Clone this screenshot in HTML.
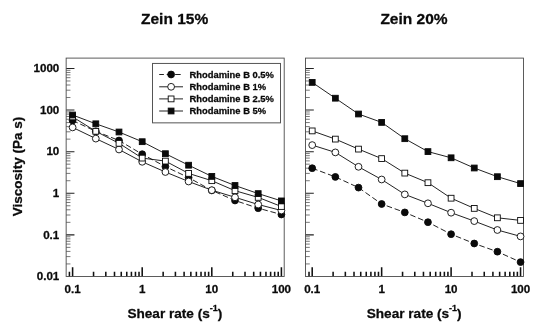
<!DOCTYPE html>
<html lang="en"><head><meta charset="utf-8"><title>Viscosity vs shear rate</title>
<style>html,body{margin:0;padding:0;background:#fff}body{width:550px;height:333px;overflow:hidden}svg{display:block}</style>
</head><body>
<svg width="550" height="333" viewBox="0 0 550 333" font-family='"Liberation Sans", Arial, Helvetica, sans-serif' font-weight="bold" fill="#0a0a0a">
<style>text{stroke:#0a0a0a;stroke-width:0.28px;stroke-linejoin:round}</style>
<rect width="550" height="333" fill="#fff"/>
<path d="M66.15 263.93h4.3M66.15 256.60h4.3M66.15 251.40h4.3M66.15 247.37h4.3M66.15 244.08h4.3M66.15 241.29h4.3M66.15 238.88h4.3M66.15 236.75h4.3M66.15 222.33h4.3M66.15 215.00h4.3M66.15 209.80h4.3M66.15 205.77h4.3M66.15 202.48h4.3M66.15 199.69h4.3M66.15 197.28h4.3M66.15 195.15h4.3M66.15 180.73h4.3M66.15 173.40h4.3M66.15 168.20h4.3M66.15 164.17h4.3M66.15 160.88h4.3M66.15 158.09h4.3M66.15 155.68h4.3M66.15 153.55h4.3M66.15 139.13h4.3M66.15 131.80h4.3M66.15 126.60h4.3M66.15 122.57h4.3M66.15 119.28h4.3M66.15 116.49h4.3M66.15 114.08h4.3M66.15 111.95h4.3M66.15 97.53h4.3M66.15 90.20h4.3M66.15 85.00h4.3M66.15 80.97h4.3M66.15 77.68h4.3M66.15 74.89h4.3M66.15 72.48h4.3M66.15 70.35h4.3" stroke="#555" stroke-width="0.8" fill="none"/>
<path d="M66.15 234.85h8.3M66.15 193.25h8.3M66.15 151.65h8.3M66.15 110.05h8.3M66.15 68.45h8.3" stroke="#222" stroke-width="1.05" fill="none"/>
<path d="M69.42 276.45v-4.7M72.60 276.45v-9.3M93.55 276.45v-4.7M105.81 276.45v-4.7M114.50 276.45v-4.7M121.25 276.45v-4.7M126.76 276.45v-4.7M131.42 276.45v-4.7M135.46 276.45v-4.7M139.02 276.45v-4.7M142.20 276.45v-9.3M163.15 276.45v-4.7M175.41 276.45v-4.7M184.10 276.45v-4.7M190.85 276.45v-4.7M196.36 276.45v-4.7M201.02 276.45v-4.7M205.06 276.45v-4.7M208.62 276.45v-4.7M211.80 276.45v-9.3M232.75 276.45v-4.7M245.01 276.45v-4.7M253.70 276.45v-4.7M260.45 276.45v-4.7M265.96 276.45v-4.7M270.62 276.45v-4.7M274.66 276.45v-4.7M278.22 276.45v-4.7M281.40 276.45v-9.3" stroke="#111" stroke-width="1.55" fill="none"/>
<rect x="66.15" y="58.1" width="218.05" height="218.35" fill="none" stroke="#4a4a4a" stroke-width="0.9"/>
<polyline points="72.60,120.50 95.80,131.30 119.00,140.50 142.20,154.20 165.40,166.60 188.60,177.60 211.80,190.40 235.00,200.50 258.20,208.20 281.40,214.50" fill="none" stroke="#0a0a0a" stroke-width="0.9" stroke-dasharray="5.6 2.8"/>
<circle cx="72.60" cy="120.50" r="3.4" fill="#0a0a0a" stroke="#0a0a0a" stroke-width="0.9"/>
<circle cx="95.80" cy="131.30" r="3.4" fill="#0a0a0a" stroke="#0a0a0a" stroke-width="0.9"/>
<circle cx="119.00" cy="140.50" r="3.4" fill="#0a0a0a" stroke="#0a0a0a" stroke-width="0.9"/>
<circle cx="142.20" cy="154.20" r="3.4" fill="#0a0a0a" stroke="#0a0a0a" stroke-width="0.9"/>
<circle cx="165.40" cy="166.60" r="3.4" fill="#0a0a0a" stroke="#0a0a0a" stroke-width="0.9"/>
<circle cx="188.60" cy="177.60" r="3.4" fill="#0a0a0a" stroke="#0a0a0a" stroke-width="0.9"/>
<circle cx="211.80" cy="190.40" r="3.4" fill="#0a0a0a" stroke="#0a0a0a" stroke-width="0.9"/>
<circle cx="235.00" cy="200.50" r="3.4" fill="#0a0a0a" stroke="#0a0a0a" stroke-width="0.9"/>
<circle cx="258.20" cy="208.20" r="3.4" fill="#0a0a0a" stroke="#0a0a0a" stroke-width="0.9"/>
<circle cx="281.40" cy="214.50" r="3.4" fill="#0a0a0a" stroke="#0a0a0a" stroke-width="0.9"/>
<polyline points="72.60,127.40 95.80,138.60 119.00,149.50 142.20,161.80 165.40,172.00 188.60,181.50 211.80,190.20 235.00,197.30 258.20,204.50 281.40,210.50" fill="none" stroke="#0a0a0a" stroke-width="0.9"/>
<circle cx="72.60" cy="127.40" r="3.4" fill="#fff" stroke="#0a0a0a" stroke-width="0.9"/>
<circle cx="95.80" cy="138.60" r="3.4" fill="#fff" stroke="#0a0a0a" stroke-width="0.9"/>
<circle cx="119.00" cy="149.50" r="3.4" fill="#fff" stroke="#0a0a0a" stroke-width="0.9"/>
<circle cx="142.20" cy="161.80" r="3.4" fill="#fff" stroke="#0a0a0a" stroke-width="0.9"/>
<circle cx="165.40" cy="172.00" r="3.4" fill="#fff" stroke="#0a0a0a" stroke-width="0.9"/>
<circle cx="188.60" cy="181.50" r="3.4" fill="#fff" stroke="#0a0a0a" stroke-width="0.9"/>
<circle cx="211.80" cy="190.20" r="3.4" fill="#fff" stroke="#0a0a0a" stroke-width="0.9"/>
<circle cx="235.00" cy="197.30" r="3.4" fill="#fff" stroke="#0a0a0a" stroke-width="0.9"/>
<circle cx="258.20" cy="204.50" r="3.4" fill="#fff" stroke="#0a0a0a" stroke-width="0.9"/>
<circle cx="281.40" cy="210.50" r="3.4" fill="#fff" stroke="#0a0a0a" stroke-width="0.9"/>
<polyline points="72.60,116.90 95.80,131.30 119.00,143.30 142.20,158.10 165.40,161.10 188.60,173.40 211.80,180.70 235.00,190.70 258.20,197.40 281.40,206.50" fill="none" stroke="#0a0a0a" stroke-width="0.9"/>
<rect x="69.70" y="114.00" width="5.8" height="5.8" fill="#fff" stroke="#0a0a0a" stroke-width="0.9"/>
<rect x="92.90" y="128.40" width="5.8" height="5.8" fill="#fff" stroke="#0a0a0a" stroke-width="0.9"/>
<rect x="116.10" y="140.40" width="5.8" height="5.8" fill="#fff" stroke="#0a0a0a" stroke-width="0.9"/>
<rect x="139.30" y="155.20" width="5.8" height="5.8" fill="#fff" stroke="#0a0a0a" stroke-width="0.9"/>
<rect x="162.50" y="158.20" width="5.8" height="5.8" fill="#fff" stroke="#0a0a0a" stroke-width="0.9"/>
<rect x="185.70" y="170.50" width="5.8" height="5.8" fill="#fff" stroke="#0a0a0a" stroke-width="0.9"/>
<rect x="208.90" y="177.80" width="5.8" height="5.8" fill="#fff" stroke="#0a0a0a" stroke-width="0.9"/>
<rect x="232.10" y="187.80" width="5.8" height="5.8" fill="#fff" stroke="#0a0a0a" stroke-width="0.9"/>
<rect x="255.30" y="194.50" width="5.8" height="5.8" fill="#fff" stroke="#0a0a0a" stroke-width="0.9"/>
<rect x="278.50" y="203.60" width="5.8" height="5.8" fill="#fff" stroke="#0a0a0a" stroke-width="0.9"/>
<polyline points="72.60,115.00 95.80,123.80 119.00,132.00 142.20,141.70 165.40,153.70 188.60,165.20 211.80,176.40 235.00,185.50 258.20,193.60 281.40,200.90" fill="none" stroke="#0a0a0a" stroke-width="0.9"/>
<rect x="69.70" y="112.10" width="5.8" height="5.8" fill="#0a0a0a" stroke="#0a0a0a" stroke-width="0.9"/>
<rect x="92.90" y="120.90" width="5.8" height="5.8" fill="#0a0a0a" stroke="#0a0a0a" stroke-width="0.9"/>
<rect x="116.10" y="129.10" width="5.8" height="5.8" fill="#0a0a0a" stroke="#0a0a0a" stroke-width="0.9"/>
<rect x="139.30" y="138.80" width="5.8" height="5.8" fill="#0a0a0a" stroke="#0a0a0a" stroke-width="0.9"/>
<rect x="162.50" y="150.80" width="5.8" height="5.8" fill="#0a0a0a" stroke="#0a0a0a" stroke-width="0.9"/>
<rect x="185.70" y="162.30" width="5.8" height="5.8" fill="#0a0a0a" stroke="#0a0a0a" stroke-width="0.9"/>
<rect x="208.90" y="173.50" width="5.8" height="5.8" fill="#0a0a0a" stroke="#0a0a0a" stroke-width="0.9"/>
<rect x="232.10" y="182.60" width="5.8" height="5.8" fill="#0a0a0a" stroke="#0a0a0a" stroke-width="0.9"/>
<rect x="255.30" y="190.70" width="5.8" height="5.8" fill="#0a0a0a" stroke="#0a0a0a" stroke-width="0.9"/>
<rect x="278.50" y="198.00" width="5.8" height="5.8" fill="#0a0a0a" stroke="#0a0a0a" stroke-width="0.9"/>
<text x="72.60" y="292.9" font-size="11.6" text-anchor="middle">0.1</text>
<text x="142.20" y="292.9" font-size="11.6" text-anchor="middle">1</text>
<text x="211.80" y="292.9" font-size="11.6" text-anchor="middle">10</text>
<text x="281.40" y="292.9" font-size="11.6" text-anchor="middle">100</text>
<text x="174.88" y="317.6" font-size="13.6" text-anchor="middle">Shear rate (s<tspan font-size="9" dy="-6.3">-1</tspan><tspan dy="6.3">)</tspan></text>
<path d="M305.50 263.93h4.3M305.50 256.60h4.3M305.50 251.40h4.3M305.50 247.37h4.3M305.50 244.08h4.3M305.50 241.29h4.3M305.50 238.88h4.3M305.50 236.75h4.3M305.50 222.33h4.3M305.50 215.00h4.3M305.50 209.80h4.3M305.50 205.77h4.3M305.50 202.48h4.3M305.50 199.69h4.3M305.50 197.28h4.3M305.50 195.15h4.3M305.50 180.73h4.3M305.50 173.40h4.3M305.50 168.20h4.3M305.50 164.17h4.3M305.50 160.88h4.3M305.50 158.09h4.3M305.50 155.68h4.3M305.50 153.55h4.3M305.50 139.13h4.3M305.50 131.80h4.3M305.50 126.60h4.3M305.50 122.57h4.3M305.50 119.28h4.3M305.50 116.49h4.3M305.50 114.08h4.3M305.50 111.95h4.3M305.50 97.53h4.3M305.50 90.20h4.3M305.50 85.00h4.3M305.50 80.97h4.3M305.50 77.68h4.3M305.50 74.89h4.3M305.50 72.48h4.3M305.50 70.35h4.3" stroke="#555" stroke-width="0.8" fill="none"/>
<path d="M305.50 234.85h8.3M305.50 193.25h8.3M305.50 151.65h8.3M305.50 110.05h8.3M305.50 68.45h8.3" stroke="#222" stroke-width="1.05" fill="none"/>
<path d="M309.02 276.45v-4.7M312.20 276.45v-9.3M333.11 276.45v-4.7M345.34 276.45v-4.7M354.01 276.45v-4.7M360.74 276.45v-4.7M366.24 276.45v-4.7M370.89 276.45v-4.7M374.92 276.45v-4.7M378.47 276.45v-4.7M381.65 276.45v-9.3M402.56 276.45v-4.7M414.79 276.45v-4.7M423.46 276.45v-4.7M430.19 276.45v-4.7M435.69 276.45v-4.7M440.34 276.45v-4.7M444.37 276.45v-4.7M447.92 276.45v-4.7M451.10 276.45v-9.3M472.01 276.45v-4.7M484.24 276.45v-4.7M492.91 276.45v-4.7M499.64 276.45v-4.7M505.14 276.45v-4.7M509.79 276.45v-4.7M513.82 276.45v-4.7M517.37 276.45v-4.7M520.55 276.45v-9.3" stroke="#111" stroke-width="1.55" fill="none"/>
<rect x="305.5" y="58.1" width="217.95" height="218.35" fill="none" stroke="#4a4a4a" stroke-width="0.9"/>
<polyline points="312.20,168.20 335.35,176.90 358.50,187.60 381.65,204.00 404.80,212.40 427.95,222.20 451.10,234.20 474.25,243.50 497.40,251.70 520.55,262.10" fill="none" stroke="#0a0a0a" stroke-width="0.9" stroke-dasharray="5.6 2.8"/>
<circle cx="312.20" cy="168.20" r="3.4" fill="#0a0a0a" stroke="#0a0a0a" stroke-width="0.9"/>
<circle cx="335.35" cy="176.90" r="3.4" fill="#0a0a0a" stroke="#0a0a0a" stroke-width="0.9"/>
<circle cx="358.50" cy="187.60" r="3.4" fill="#0a0a0a" stroke="#0a0a0a" stroke-width="0.9"/>
<circle cx="381.65" cy="204.00" r="3.4" fill="#0a0a0a" stroke="#0a0a0a" stroke-width="0.9"/>
<circle cx="404.80" cy="212.40" r="3.4" fill="#0a0a0a" stroke="#0a0a0a" stroke-width="0.9"/>
<circle cx="427.95" cy="222.20" r="3.4" fill="#0a0a0a" stroke="#0a0a0a" stroke-width="0.9"/>
<circle cx="451.10" cy="234.20" r="3.4" fill="#0a0a0a" stroke="#0a0a0a" stroke-width="0.9"/>
<circle cx="474.25" cy="243.50" r="3.4" fill="#0a0a0a" stroke="#0a0a0a" stroke-width="0.9"/>
<circle cx="497.40" cy="251.70" r="3.4" fill="#0a0a0a" stroke="#0a0a0a" stroke-width="0.9"/>
<circle cx="520.55" cy="262.10" r="3.4" fill="#0a0a0a" stroke="#0a0a0a" stroke-width="0.9"/>
<polyline points="312.20,145.10 335.35,152.40 358.50,166.80 381.65,179.50 404.80,194.40 427.95,203.30 451.10,212.70 474.25,221.10 497.40,230.00 520.55,236.40" fill="none" stroke="#0a0a0a" stroke-width="0.9"/>
<circle cx="312.20" cy="145.10" r="3.4" fill="#fff" stroke="#0a0a0a" stroke-width="0.9"/>
<circle cx="335.35" cy="152.40" r="3.4" fill="#fff" stroke="#0a0a0a" stroke-width="0.9"/>
<circle cx="358.50" cy="166.80" r="3.4" fill="#fff" stroke="#0a0a0a" stroke-width="0.9"/>
<circle cx="381.65" cy="179.50" r="3.4" fill="#fff" stroke="#0a0a0a" stroke-width="0.9"/>
<circle cx="404.80" cy="194.40" r="3.4" fill="#fff" stroke="#0a0a0a" stroke-width="0.9"/>
<circle cx="427.95" cy="203.30" r="3.4" fill="#fff" stroke="#0a0a0a" stroke-width="0.9"/>
<circle cx="451.10" cy="212.70" r="3.4" fill="#fff" stroke="#0a0a0a" stroke-width="0.9"/>
<circle cx="474.25" cy="221.10" r="3.4" fill="#fff" stroke="#0a0a0a" stroke-width="0.9"/>
<circle cx="497.40" cy="230.00" r="3.4" fill="#fff" stroke="#0a0a0a" stroke-width="0.9"/>
<circle cx="520.55" cy="236.40" r="3.4" fill="#fff" stroke="#0a0a0a" stroke-width="0.9"/>
<polyline points="312.20,130.90 335.35,139.10 358.50,149.10 381.65,158.60 404.80,173.10 427.95,182.70 451.10,198.20 474.25,208.40 497.40,217.80 520.55,220.40" fill="none" stroke="#0a0a0a" stroke-width="0.9"/>
<rect x="309.30" y="128.00" width="5.8" height="5.8" fill="#fff" stroke="#0a0a0a" stroke-width="0.9"/>
<rect x="332.45" y="136.20" width="5.8" height="5.8" fill="#fff" stroke="#0a0a0a" stroke-width="0.9"/>
<rect x="355.60" y="146.20" width="5.8" height="5.8" fill="#fff" stroke="#0a0a0a" stroke-width="0.9"/>
<rect x="378.75" y="155.70" width="5.8" height="5.8" fill="#fff" stroke="#0a0a0a" stroke-width="0.9"/>
<rect x="401.90" y="170.20" width="5.8" height="5.8" fill="#fff" stroke="#0a0a0a" stroke-width="0.9"/>
<rect x="425.05" y="179.80" width="5.8" height="5.8" fill="#fff" stroke="#0a0a0a" stroke-width="0.9"/>
<rect x="448.20" y="195.30" width="5.8" height="5.8" fill="#fff" stroke="#0a0a0a" stroke-width="0.9"/>
<rect x="471.35" y="205.50" width="5.8" height="5.8" fill="#fff" stroke="#0a0a0a" stroke-width="0.9"/>
<rect x="494.50" y="214.90" width="5.8" height="5.8" fill="#fff" stroke="#0a0a0a" stroke-width="0.9"/>
<rect x="517.65" y="217.50" width="5.8" height="5.8" fill="#fff" stroke="#0a0a0a" stroke-width="0.9"/>
<polyline points="312.20,82.40 335.35,98.20 358.50,114.00 381.65,122.40 404.80,138.70 427.95,151.60 451.10,157.80 474.25,168.00 497.40,176.70 520.55,183.60" fill="none" stroke="#0a0a0a" stroke-width="0.9"/>
<rect x="309.30" y="79.50" width="5.8" height="5.8" fill="#0a0a0a" stroke="#0a0a0a" stroke-width="0.9"/>
<rect x="332.45" y="95.30" width="5.8" height="5.8" fill="#0a0a0a" stroke="#0a0a0a" stroke-width="0.9"/>
<rect x="355.60" y="111.10" width="5.8" height="5.8" fill="#0a0a0a" stroke="#0a0a0a" stroke-width="0.9"/>
<rect x="378.75" y="119.50" width="5.8" height="5.8" fill="#0a0a0a" stroke="#0a0a0a" stroke-width="0.9"/>
<rect x="401.90" y="135.80" width="5.8" height="5.8" fill="#0a0a0a" stroke="#0a0a0a" stroke-width="0.9"/>
<rect x="425.05" y="148.70" width="5.8" height="5.8" fill="#0a0a0a" stroke="#0a0a0a" stroke-width="0.9"/>
<rect x="448.20" y="154.90" width="5.8" height="5.8" fill="#0a0a0a" stroke="#0a0a0a" stroke-width="0.9"/>
<rect x="471.35" y="165.10" width="5.8" height="5.8" fill="#0a0a0a" stroke="#0a0a0a" stroke-width="0.9"/>
<rect x="494.50" y="173.80" width="5.8" height="5.8" fill="#0a0a0a" stroke="#0a0a0a" stroke-width="0.9"/>
<rect x="517.65" y="180.70" width="5.8" height="5.8" fill="#0a0a0a" stroke="#0a0a0a" stroke-width="0.9"/>
<text x="312.20" y="292.9" font-size="11.6" text-anchor="middle">0.1</text>
<text x="381.65" y="292.9" font-size="11.6" text-anchor="middle">1</text>
<text x="451.10" y="292.9" font-size="11.6" text-anchor="middle">10</text>
<text x="520.55" y="292.9" font-size="11.6" text-anchor="middle">100</text>
<text x="414.18" y="317.6" font-size="13.6" text-anchor="middle">Shear rate (s<tspan font-size="9" dy="-6.3">-1</tspan><tspan dy="6.3">)</tspan></text>
<text x="59.3" y="72.20" font-size="11.6" text-anchor="end">1000</text>
<text x="59.3" y="113.80" font-size="11.6" text-anchor="end">100</text>
<text x="59.3" y="155.40" font-size="11.6" text-anchor="end">10</text>
<text x="59.3" y="197.00" font-size="11.6" text-anchor="end">1</text>
<text x="59.3" y="238.60" font-size="11.6" text-anchor="end">0.1</text>
<text x="59.3" y="280.20" font-size="11.6" text-anchor="end">0.01</text>
<text transform="translate(22.0 166.4) rotate(-90)" font-size="13.5" text-anchor="middle">Viscosity (Pa s)</text>
<text x="174.6" y="24" font-size="15.5" text-anchor="middle">Zein 15%</text>
<text x="414" y="24" font-size="15.5" text-anchor="middle">Zein 20%</text>
<rect x="152.5" y="63.45" width="128.0" height="59.4" fill="#fff" stroke="#555" stroke-width="1"/>
<path d="M159.2 74.5H183" stroke="#0a0a0a" stroke-width="0.9" fill="none" stroke-dasharray="5.6 2.8" stroke-dashoffset="0.9"/>
<circle cx="171.10" cy="74.50" r="3.4" fill="#0a0a0a" stroke="#0a0a0a" stroke-width="0.9"/>
<text x="189.5" y="77.80" font-size="9.4">Rhodamine B 0.5%</text>
<path d="M159.2 86.8H183" stroke="#0a0a0a" stroke-width="0.9" fill="none"/>
<circle cx="171.10" cy="86.80" r="3.4" fill="#fff" stroke="#0a0a0a" stroke-width="0.9"/>
<text x="189.5" y="90.10" font-size="9.4">Rhodamine B 1%</text>
<path d="M159.2 98.9H183" stroke="#0a0a0a" stroke-width="0.9" fill="none"/>
<rect x="168.20" y="96.00" width="5.8" height="5.8" fill="#fff" stroke="#0a0a0a" stroke-width="0.9"/>
<text x="189.5" y="102.20" font-size="9.4">Rhodamine B 2.5%</text>
<path d="M159.2 111.0H183" stroke="#0a0a0a" stroke-width="0.9" fill="none"/>
<rect x="168.20" y="108.10" width="5.8" height="5.8" fill="#0a0a0a" stroke="#0a0a0a" stroke-width="0.9"/>
<text x="189.5" y="114.30" font-size="9.4">Rhodamine B 5%</text>
</svg>
</body></html>
